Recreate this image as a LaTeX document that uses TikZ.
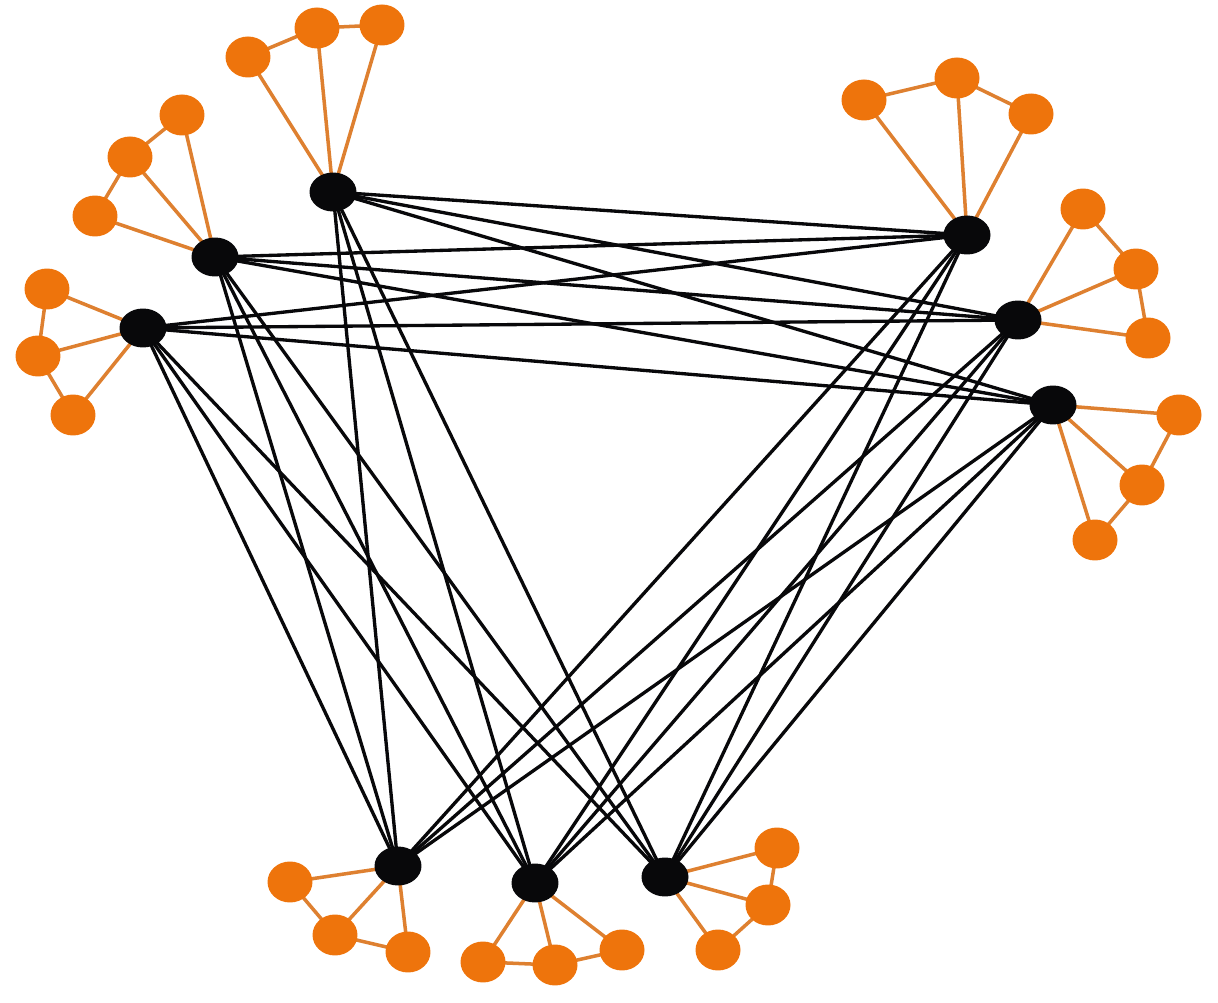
\documentclass[tikz,border=0pt]{standalone}
\usetikzlibrary{shapes.geometric,backgrounds}
\definecolor{leaforange}{RGB}{238,116,12}
\definecolor{linkorange}{RGB}{222,128,48}
\definecolor{hubblack}{RGB}{8,8,10}
\tikzset{
  hub/.style={ellipse,fill=hubblack,draw=none,minimum width=0.94cm,minimum height=0.78cm,inner sep=0pt},
  leaf/.style={ellipse,fill=leaforange,draw=none,minimum width=0.90cm,minimum height=0.82cm,inner sep=0pt},
  hubedge/.style={draw=hubblack,line width=1.9pt},
  leafedge/.style={draw=linkorange,line width=2pt}
}
\begin{document}
\begin{tikzpicture}[x=0.02cm,y=-0.02cm]
\useasboundingbox (0,0) rectangle (1218,1003);
% hubs
\node[hub] (A) at (333,192) {};
\node[hub] (B) at (215,257) {};
\node[hub] (C) at (143,328) {};
\node[hub] (D) at (967,235) {};
\node[hub] (E) at (1018,320) {};
\node[hub] (F) at (1053,405) {};
\node[hub] (G) at (398,866) {};
\node[hub] (H) at (535,883) {};
\node[hub] (I) at (665,877) {};
% leaves
\node[leaf] (A1) at (248,57) {};
\node[leaf] (A2) at (317,28) {};
\node[leaf] (A3) at (382,25) {};
\node[leaf] (B1) at (182,115) {};
\node[leaf] (B2) at (130,157) {};
\node[leaf] (B3) at (95,216) {};
\node[leaf] (C1) at (47,289) {};
\node[leaf] (C2) at (38,356) {};
\node[leaf] (C3) at (73,415) {};
\node[leaf] (D1) at (864,100) {};
\node[leaf] (D2) at (957,78) {};
\node[leaf] (D3) at (1031,114) {};
\node[leaf] (E1) at (1083,209) {};
\node[leaf] (E2) at (1136,269) {};
\node[leaf] (E3) at (1148,338) {};
\node[leaf] (F1) at (1179,415) {};
\node[leaf] (F2) at (1142,485) {};
\node[leaf] (F3) at (1095,540) {};
\node[leaf] (G1) at (290,882) {};
\node[leaf] (G2) at (335,935) {};
\node[leaf] (G3) at (408,952) {};
\node[leaf] (H1) at (483,962) {};
\node[leaf] (H2) at (555,965) {};
\node[leaf] (H3) at (622,950) {};
\node[leaf] (I1) at (777,848) {};
\node[leaf] (I2) at (768,905) {};
\node[leaf] (I3) at (718,950) {};
\begin{pgfonlayer}{background}
% hub-to-hub connections (complete tripartite)
\foreach \u in {A,B,C}{
  \foreach \v in {D,E,F,G,H,I}{
    \draw[hubedge] (\u.center) -- (\v.center);
  }
}
\foreach \u in {D,E,F}{
  \foreach \v in {G,H,I}{
    \draw[hubedge] (\u.center) -- (\v.center);
  }
}
% leaf links
\foreach \h in {A,B,C,D,E,F,G,H,I}{
  \draw[leafedge] (\h.center) -- (\h1.center);
  \draw[leafedge] (\h.center) -- (\h2.center);
  \draw[leafedge] (\h.center) -- (\h3.center);
  \draw[leafedge] (\h1.center) -- (\h2.center) -- (\h3.center);
}
\end{pgfonlayer}
\end{tikzpicture}
\end{document}
